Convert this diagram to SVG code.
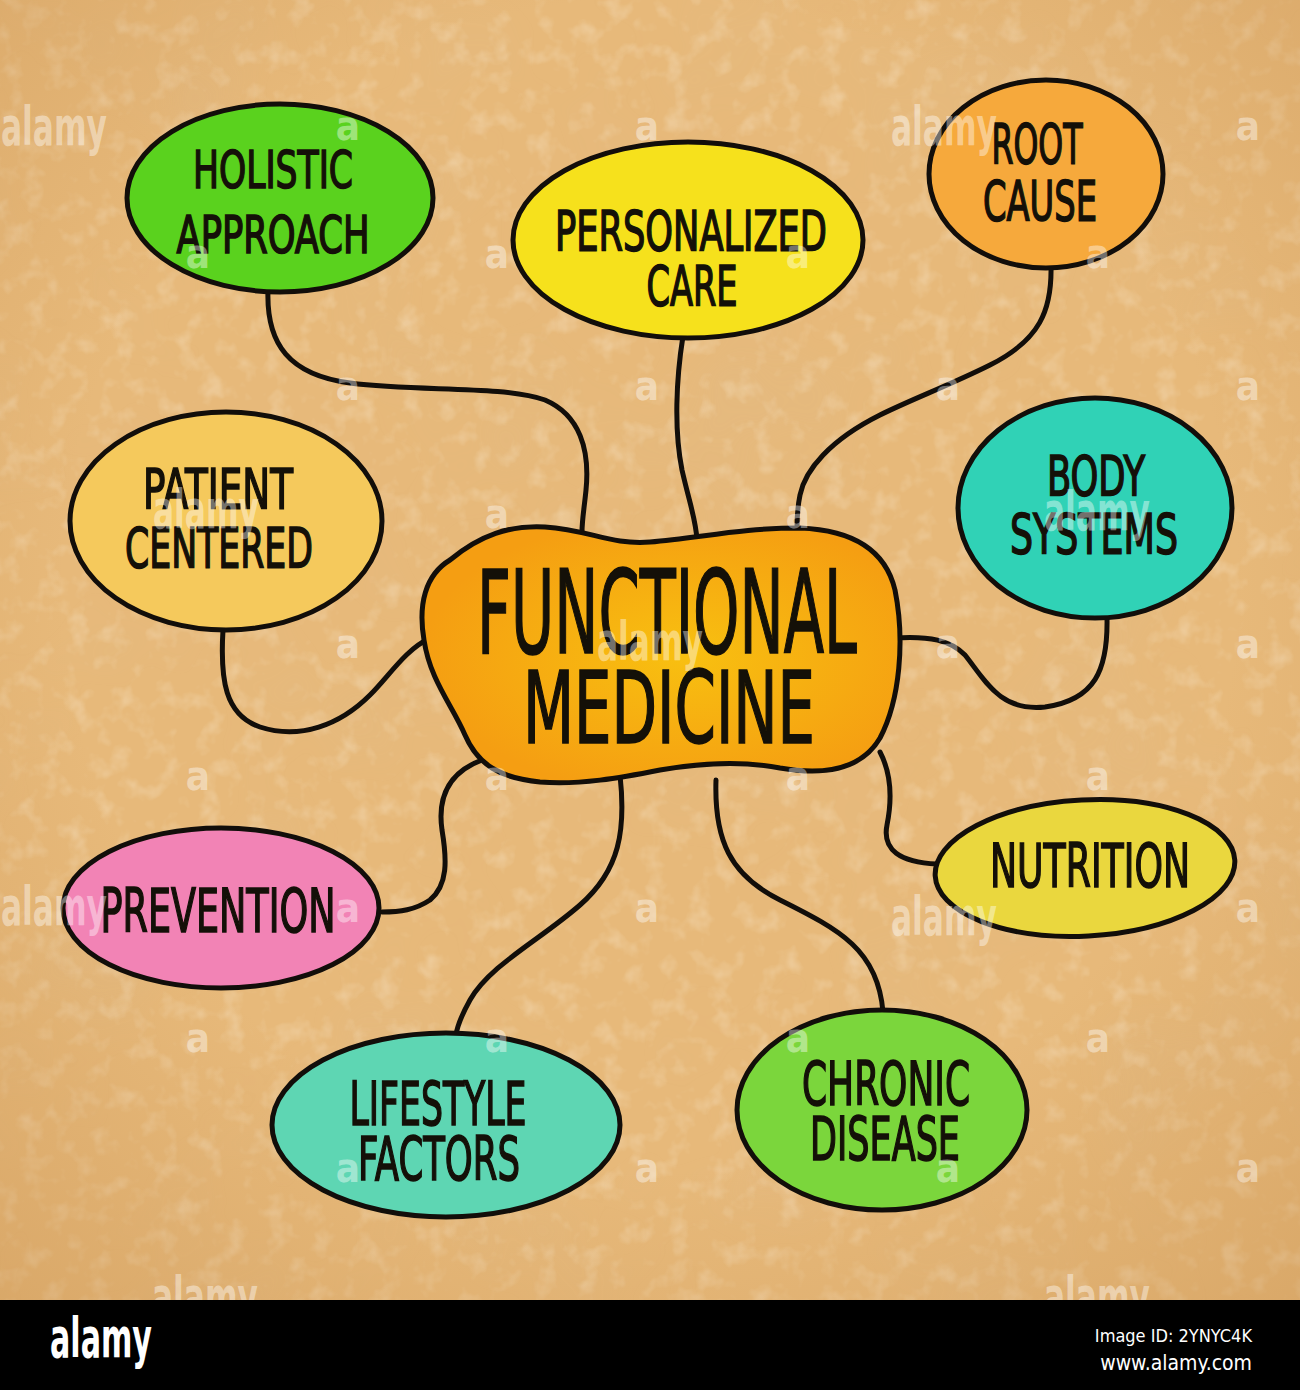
<svg xmlns="http://www.w3.org/2000/svg" width="1300" height="1390" viewBox="0 0 1300 1390">
<defs>
<style>
.lbl{font-family:"Liberation Sans Narrow","DejaVu Sans Condensed","Liberation Sans",sans-serif;font-weight:normal;fill:#141008;stroke:#141008;stroke-width:1.6;text-anchor:middle}
.node{stroke:#120e0a;stroke-width:5}
.conn{fill:none;stroke:#120e0a;stroke-width:5;stroke-linecap:round}
.wm{font-family:"Liberation Sans Narrow","DejaVu Sans Condensed",sans-serif;font-weight:bold;fill:#ffffff;fill-opacity:0.42;text-anchor:middle}
.bar{font-family:"Liberation Sans Narrow","DejaVu Sans Condensed",sans-serif;fill:#ffffff}
</style>
<filter id="light" x="0" y="0" width="100%" height="100%">
<feTurbulence type="fractalNoise" baseFrequency="0.045" numOctaves="3" seed="7"/>
<feColorMatrix type="matrix" values="0 0 0 0 1  0 0 0 0 0.94  0 0 0 0 0.82  0 0 0 2.4 -1.2"/>
</filter>
<filter id="dark" x="0" y="0" width="100%" height="100%">
<feTurbulence type="fractalNoise" baseFrequency="0.006" numOctaves="3" seed="2"/>
<feColorMatrix type="matrix" values="0 0 0 0 0.75  0 0 0 0 0.5  0 0 0 0 0.25  0 0 0 1.8 -0.85"/>
</filter>
<radialGradient id="vig" cx="0.5" cy="0.45" r="0.75">
<stop offset="0.6" stop-color="#b9803f" stop-opacity="0"/>
<stop offset="1" stop-color="#b9803f" stop-opacity="0.3"/>
</radialGradient>
<radialGradient id="core" cx="0.55" cy="0.5" r="0.55">
<stop offset="0" stop-color="#f8c010"/>
<stop offset="1" stop-color="#f59e12"/>
</radialGradient>
</defs>

<rect x="0" y="0" width="1300" height="1300" fill="#e7b97a"/>
<rect x="0" y="0" width="1300" height="1300" filter="url(#dark)" opacity="0.4"/>
<rect x="0" y="0" width="1300" height="1300" filter="url(#light)" opacity="0.28"/>
<rect x="0" y="0" width="1300" height="1300" fill="url(#vig)"/>

<g id="connectors">
<path class="conn" d="M268,290 C266,345 290,375 350,383 C420,392 500,385 545,400 C580,415 590,450 586,490 C584,510 582,520 582,532"/>
<path class="conn" d="M683,336 C676,380 674,430 682,470 C690,505 696,520 697,540"/>
<path class="conn" d="M1051,266 C1052,310 1040,340 990,365 C950,385 910,400 880,415 C830,440 805,470 800,495 C797,510 797,518 797,528"/>
<path class="conn" d="M223,630 C220,680 225,715 260,727 C300,740 340,725 370,695 C390,675 405,650 430,638"/>
<path class="conn" d="M1107,618 C1108,670 1095,700 1045,707 C1000,712 985,680 965,655 C950,640 930,636 895,638"/>
<path class="conn" d="M880,752 C892,775 892,800 887,825 C882,850 900,862 937,864"/>
<path class="conn" d="M716,780 C714,840 730,875 780,900 C840,930 878,950 883,1012"/>
<path class="conn" d="M482,760 C450,772 437,795 442,830 C447,860 448,885 430,900 C415,910 400,912 382,912"/>
<path class="conn" d="M620,775 C626,830 620,870 580,905 C540,940 490,965 470,1000 C460,1018 457,1028 456,1035"/>
</g>

<g id="node-center">
<path class="node" stroke-width="6" fill="url(#core)" d="M450,560 C480,535 510,525 545,527 C590,530 610,545 650,542 C700,538 740,528 800,528 C850,530 885,548 895,590 C905,640 900,700 880,738 C860,772 820,775 780,768 C740,760 700,763 660,770 C620,778 580,785 540,782 C500,778 478,765 465,735 C452,705 430,680 424,640 C418,605 425,575 450,560 Z"/>
<text class="lbl" x="667" y="653" font-size="115" stroke-width="2.5" textLength="380" lengthAdjust="spacingAndGlyphs">FUNCTIONAL</text>
<text class="lbl" x="669" y="743" font-size="100" stroke-width="2.5" textLength="292" lengthAdjust="spacingAndGlyphs">MEDICINE</text>
</g>

<g id="node-holistic">
<ellipse class="node" cx="280" cy="198" rx="153" ry="94" fill="#5ad21e"/>
<text class="lbl" x="273" y="188" font-size="52" textLength="160" lengthAdjust="spacingAndGlyphs">HOLISTIC</text>
<text class="lbl" x="273" y="253" font-size="52" textLength="193" lengthAdjust="spacingAndGlyphs">APPROACH</text>
</g>

<g id="node-personalized">
<ellipse class="node" cx="688" cy="240" rx="175" ry="98" fill="#f6e11c"/>
<text class="lbl" x="691" y="250" font-size="56" textLength="272" lengthAdjust="spacingAndGlyphs">PERSONALIZED</text>
<text class="lbl" x="692" y="305" font-size="56" textLength="91" lengthAdjust="spacingAndGlyphs">CARE</text>
</g>

<g id="node-root">
<ellipse class="node" cx="1046" cy="174" rx="117" ry="94" fill="#f6a93c"/>
<text class="lbl" x="1037" y="163" font-size="56" textLength="91" lengthAdjust="spacingAndGlyphs">ROOT</text>
<text class="lbl" x="1040" y="220" font-size="56" textLength="114" lengthAdjust="spacingAndGlyphs">CAUSE</text>
</g>

<g id="node-patient">
<ellipse class="node" cx="226" cy="521" rx="156" ry="109" fill="#f5c95c"/>
<text class="lbl" x="218" y="508" font-size="56" textLength="150" lengthAdjust="spacingAndGlyphs">PATIENT</text>
<text class="lbl" x="219" y="567" font-size="56" textLength="188" lengthAdjust="spacingAndGlyphs">CENTERED</text>
</g>

<g id="node-body">
<ellipse class="node" cx="1095" cy="508" rx="137" ry="110" fill="#30d2b6"/>
<text class="lbl" x="1096" y="495" font-size="56" textLength="98" lengthAdjust="spacingAndGlyphs">BODY</text>
<text class="lbl" x="1094" y="553" font-size="56" textLength="168" lengthAdjust="spacingAndGlyphs">SYSTEMS</text>
</g>

<g id="node-nutrition">
<ellipse class="node" cx="1085" cy="868" rx="150" ry="68" fill="#ead73e" transform="rotate(-3 1085 868)"/>
<text class="lbl" x="1090" y="887" font-size="60" textLength="200" lengthAdjust="spacingAndGlyphs">NUTRITION</text>
</g>

<g id="node-prevention">
<ellipse class="node" cx="221" cy="908" rx="158" ry="80" fill="#f283b5"/>
<text class="lbl" x="218" y="932" font-size="60" textLength="235" lengthAdjust="spacingAndGlyphs">PREVENTION</text>
</g>

<g id="node-lifestyle">
<ellipse class="node" cx="446" cy="1125" rx="174" ry="92" fill="#5ed6b3"/>
<text class="lbl" x="438" y="1125" font-size="60" textLength="177" lengthAdjust="spacingAndGlyphs">LIFESTYLE</text>
<text class="lbl" x="439" y="1180" font-size="60" textLength="162" lengthAdjust="spacingAndGlyphs">FACTORS</text>
</g>

<g id="node-chronic">
<ellipse class="node" cx="882" cy="1110" rx="145" ry="100" fill="#7bd63c"/>
<text class="lbl" x="886" y="1105" font-size="60" textLength="168" lengthAdjust="spacingAndGlyphs">CHRONIC</text>
<text class="lbl" x="885" y="1160" font-size="60" textLength="150" lengthAdjust="spacingAndGlyphs">DISEASE</text>
</g>

<g id="watermarks">
<text class="wm" x="54" y="145" font-size="54" textLength="106" lengthAdjust="spacingAndGlyphs">alamy</text>
<text class="wm" x="944" y="145" font-size="54" textLength="106" lengthAdjust="spacingAndGlyphs">alamy</text>
<text class="wm" x="206" y="528" font-size="54" textLength="106" lengthAdjust="spacingAndGlyphs">alamy</text>
<text class="wm" x="1097" y="530" font-size="54" textLength="106" lengthAdjust="spacingAndGlyphs">alamy</text>
<text class="wm" x="650" y="660" font-size="54" textLength="106" lengthAdjust="spacingAndGlyphs">alamy</text>
<text class="wm" x="54" y="925" font-size="54" textLength="106" lengthAdjust="spacingAndGlyphs">alamy</text>
<text class="wm" x="944" y="935" font-size="54" textLength="106" lengthAdjust="spacingAndGlyphs">alamy</text>
<text class="wm" x="205" y="1315" font-size="54" textLength="106" lengthAdjust="spacingAndGlyphs">alamy</text>
<text class="wm" x="1097" y="1315" font-size="54" textLength="106" lengthAdjust="spacingAndGlyphs">alamy</text>
<g font-size="40">
<text class="wm" x="348" y="140">a</text><text class="wm" x="647" y="140">a</text><text class="wm" x="1248" y="140">a</text>
<text class="wm" x="198" y="268">a</text><text class="wm" x="497" y="268">a</text><text class="wm" x="798" y="268">a</text><text class="wm" x="1098" y="268">a</text>
<text class="wm" x="348" y="400">a</text><text class="wm" x="647" y="400">a</text><text class="wm" x="948" y="400">a</text><text class="wm" x="1248" y="400">a</text>
<text class="wm" x="497" y="528">a</text><text class="wm" x="798" y="528">a</text>
<text class="wm" x="348" y="658">a</text><text class="wm" x="948" y="658">a</text><text class="wm" x="1248" y="658">a</text>
<text class="wm" x="198" y="790">a</text><text class="wm" x="497" y="790">a</text><text class="wm" x="798" y="790">a</text><text class="wm" x="1098" y="790">a</text>
<text class="wm" x="348" y="922">a</text><text class="wm" x="647" y="922">a</text><text class="wm" x="1248" y="922">a</text>
<text class="wm" x="198" y="1052">a</text><text class="wm" x="497" y="1052">a</text><text class="wm" x="798" y="1052">a</text><text class="wm" x="1098" y="1052">a</text>
<text class="wm" x="348" y="1182">a</text><text class="wm" x="647" y="1182">a</text><text class="wm" x="948" y="1182">a</text><text class="wm" x="1248" y="1182">a</text>
</g>
</g>

<g id="footer">
<rect x="0" y="1300" width="1300" height="90" fill="#000000"/>
<text class="bar" x="50" y="1357" font-size="56" font-weight="bold" textLength="102" lengthAdjust="spacingAndGlyphs">alamy</text>
<text class="bar" x="1252" y="1342" font-size="18" text-anchor="end">Image ID: 2YNYC4K</text>
<text class="bar" x="1252" y="1370" font-size="21" text-anchor="end">www.alamy.com</text>
</g>
</svg>
